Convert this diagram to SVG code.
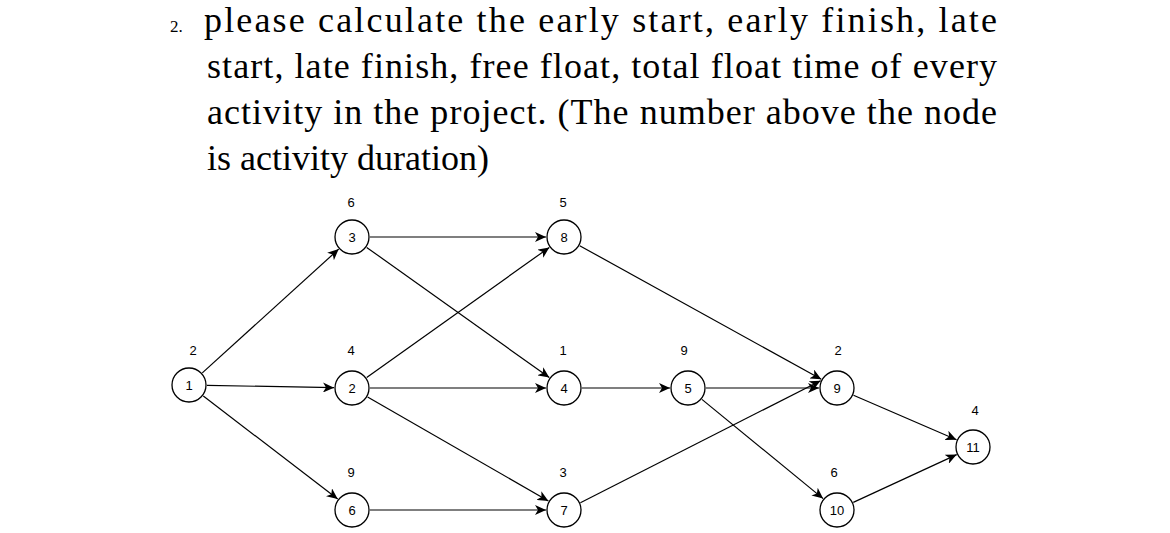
<svg xmlns="http://www.w3.org/2000/svg" width="1170" height="533" viewBox="0 0 1170 533">
<style>
.t{font-family:"Liberation Serif",serif;font-size:36px;fill:#000}
.n circle{fill:#fff;stroke:#000;stroke-width:1.3}
.n text,.d{font-family:"Liberation Sans",Arial,sans-serif;font-size:13px;fill:#000;text-anchor:middle}
.e line{stroke:#000;stroke-width:1.2;marker-end:url(#a)}
</style>
<defs><marker id="a" markerUnits="userSpaceOnUse" markerWidth="12" markerHeight="10" refX="11" refY="5" orient="auto"><path d="M0,0 L11,5 L0,10 L3,5 Z" fill="#000"/></marker></defs>
<rect width="1170" height="533" fill="#fff"/>
<text x="170" y="32" style="font-family:'Liberation Serif',serif;font-size:17px">2.</text>
<text class="t" x="204" y="32" textLength="793" lengthAdjust="spacing">please calculate the early start, early finish, late</text>
<text class="t" x="207" y="78" textLength="790" lengthAdjust="spacing">start, late finish, free float, total float time of every</text>
<text class="t" x="207" y="124" textLength="790" lengthAdjust="spacing">activity in the project. (The number above the node</text>
<text class="t" x="207" y="170">is activity duration)</text>
<g class="e">
<line x1="202.3" y1="372.9" x2="338.7" y2="249.1"/>
<line x1="207" y1="385.3" x2="334" y2="387.7"/>
<line x1="203.3" y1="396" x2="337.7" y2="499"/>
<line x1="370" y1="237" x2="546" y2="237"/>
<line x1="366.7" y1="247.4" x2="549.3" y2="377.6"/>
<line x1="366.7" y1="377.6" x2="549.3" y2="247.4"/>
<line x1="370" y1="388" x2="546" y2="388"/>
<line x1="367.6" y1="397" x2="548.4" y2="501"/>
<line x1="370" y1="510" x2="546" y2="510"/>
<line x1="579.7" y1="245.7" x2="821.3" y2="379.3"/>
<line x1="582" y1="388" x2="670" y2="388"/>
<line x1="706" y1="388" x2="819" y2="388"/>
<line x1="701.9" y1="399.4" x2="823.1" y2="498.6"/>
<line x1="580.4" y1="502.7" x2="820.6" y2="380.7"/>
<line x1="853.5" y1="395.2" x2="956.5" y2="439.8"/>
<line x1="853.3" y1="502.4" x2="956.7" y2="454.6"/>
</g>
<g id="n1" class="n"><circle cx="189" cy="385" r="17"/><text x="189" y="390">1</text><text x="193" y="355">2</text></g>
<g id="n3" class="n"><circle cx="352" cy="237" r="17"/><text x="352" y="242">3</text><text x="351" y="207">6</text></g>
<g id="n2" class="n"><circle cx="352" cy="388" r="17"/><text x="352" y="393">2</text><text x="351" y="355">4</text></g>
<g id="n6" class="n"><circle cx="352" cy="510" r="17"/><text x="352" y="515">6</text><text x="351" y="477">9</text></g>
<g id="n8" class="n"><circle cx="564" cy="237" r="17"/><text x="564" y="242">8</text><text x="563" y="207">5</text></g>
<g id="n4" class="n"><circle cx="564" cy="388" r="17"/><text x="564" y="393">4</text><text x="563" y="355">1</text></g>
<g id="n7" class="n"><circle cx="564" cy="510" r="17"/><text x="564" y="515">7</text><text x="563" y="477">3</text></g>
<g id="n5" class="n"><circle cx="688" cy="388" r="17"/><text x="688" y="393">5</text><text x="684" y="355">9</text></g>
<g id="n9" class="n"><circle cx="837" cy="388" r="17"/><text x="837" y="393">9</text><text x="838" y="355">2</text></g>
<g id="n10" class="n"><circle cx="837" cy="510" r="17"/><text x="837" y="515">10</text><text x="834" y="477">6</text></g>
<g id="n11" class="n"><circle cx="973" cy="447" r="17"/><text x="973" y="452">11</text><text x="975" y="415">4</text></g>
</svg>
